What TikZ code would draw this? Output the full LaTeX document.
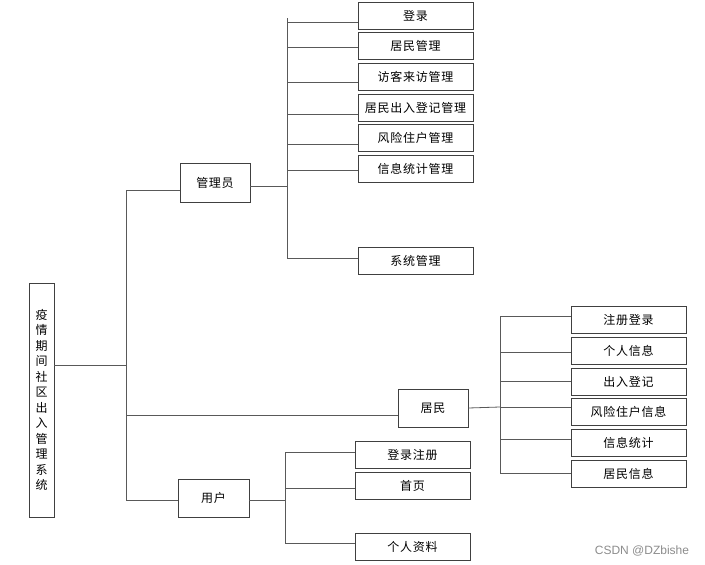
\documentclass[tikz,border=0pt]{standalone}
\usepackage{fontspec}
\newfontfamily\cjk[LetterSpace=6]{Noto Sans CJK SC}
\newfontfamily\wmfont{Liberation Sans}

\begin{document}
\begin{tikzpicture}[x=1pt,y=-1pt,
    box/.style={draw=black!75, line width=0.8pt, inner sep=0pt,
      minimum height=27pt, font=\cjk\fontsize{12}{15.5}\selectfont},
    link/.style={draw=black!65, line width=0.8pt}]
    \useasboundingbox (0,0) rectangle (705,565);

    % root and first level
    \node[box, minimum width=25pt, minimum height=234pt, align=center] (root) at (41.5,400)
      {疫\\情\\期\\间\\社\\区\\出\\入\\管\\理\\系\\统};
    \node[box, minimum width=70pt, minimum height=39pt] (admin) at (215,182.5) {管理员};
    \node[box, minimum width=70pt, minimum height=38pt] (resident) at (433,408) {居民};
    \node[box, minimum width=71pt, minimum height=38pt] (user) at (213.5,498) {用户};

    \coordinate (trunk) at (126,365);
    \coordinate (ta) at (126,190);
    \coordinate (tr) at (126,415);
    \coordinate (tu) at (126,500);
    \draw[link] (trunk -| root.east) -- (trunk);
    \draw[link] (admin.west |- ta) -- (ta) -- (tu) -- (user.west |- tu);
    \draw[link] (tr) -- (tr -| resident.west);

    %---------------------------------------------------------------%
    \coordinate (sa) at (287,186);
    \coordinate (sa top) at (287,18);
    \coordinate (sa bot) at (287,258);
    \draw[link] (admin.east |- sa) -- (sa);
    \draw[link] (sa top) -- (sa bot);
    \foreach \name/\yc/\yl/\txt in {login/15.5/22/登录, resmgr/46/47/居民管理,
        visit/77/82/访客来访管理, inout/107.5/114/居民出入登记管理,
        risk/137.5/144/风险住户管理, stat/168.5/170/信息统计管理,
        sys/260.5/258/系统管理}{% admin functions
      \node[box, minimum width=115pt] (\name) at (415.5,\yc) {\txt};
      \coordinate (j\name) at (287,\yl);
      \draw[link] (j\name) -- (\name.west |- j\name);
    }
    %---------------------------------------------------------------%
    \coordinate (sr) at (500,407);
    \coordinate (sr top) at (500,316);
    \coordinate (sr bot) at (500,473);
    \draw[link] (resident.east) -- (sr);
    \draw[link] (sr top) -- (sr bot);
    \foreach \name/\yc/\yl/\txt in {reg/319.5/316/注册登录, info/350.5/352/个人信息,
        inreg/381.5/381/出入登记, riskinfo/411.5/407/风险住户信息,
        statinfo/442.5/439/信息统计, resinfo/473.5/473/居民信息}{% resident functions
      \node[box, minimum width=115pt] (\name) at (628.5,\yc) {\txt};
      \coordinate (j\name) at (500,\yl);
      \draw[link] (j\name) -- (\name.west |- j\name);
    }
    %---------------------------------------------------------------%
    \coordinate (su) at (285,500);
    \coordinate (su top) at (285,452);
    \coordinate (su bot) at (285,543);
    \draw[link] (user.east |- su) -- (su);
    \draw[link] (su top) -- (su bot);
    \foreach \name/\yc/\yl/\txt in {ureg/454.5/452/登录注册, home/485.5/488/首页,
        profile/546.5/543/个人资料}{% user functions
      \node[box, minimum width=115pt] (\name) at (412.5,\yc) {\txt};
      \coordinate (j\name) at (285,\yl);
      \draw[link] (j\name) -- (\name.west |- j\name);
    }
    %---------------------------------------------------------------%

    \node[font=\wmfont\fontsize{12}{14}\selectfont, text=black!45] (mark) at (642,551) {CSDN @DZbishe};
\end{tikzpicture}
\end{document}
